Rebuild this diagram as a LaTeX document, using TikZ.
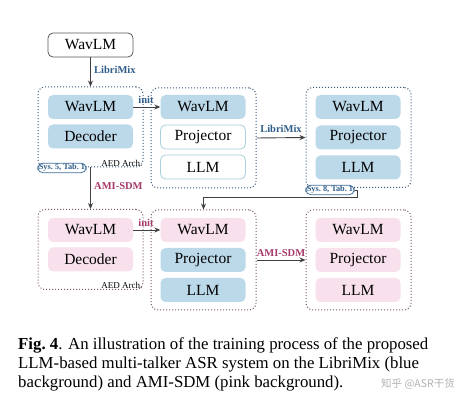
\documentclass[tikz,border=0pt]{standalone}
\usepackage{fontspec}
\setmainfont{Liberation Serif}
\newfontfamily\cjkfont{Noto Sans CJK SC}
\usetikzlibrary{arrows.meta}
\definecolor{libfill}{HTML}{BCD9EA}
\definecolor{amifill}{HTML}{F8E1EC}
\definecolor{tealline}{HTML}{A9D0DC}
\definecolor{libline}{HTML}{3A5878}
\definecolor{amiline}{HTML}{7A5A68}
\definecolor{libtext}{HTML}{2F5D8A}
\definecolor{amitext}{HTML}{A63A6A}
\definecolor{badgeline}{HTML}{3F6F9A}
\begin{document}
\begin{tikzpicture}[x=1pt, y=-1pt,
  blk/.style={rounded corners=5pt, minimum width=85pt, minimum height=24pt, inner sep=0pt, font=\fontsize{15.5}{17}\selectfont},
  blu/.style={blk, fill=libfill},
  pnk/.style={blk, fill=amifill},
  wht/.style={blk, draw=tealline, line width=0.8pt, fill=white},
  grp/.style={draw=#1, dotted, line width=1pt, rounded corners=7pt, minimum width=105pt, inner sep=0pt},
  arr/.style={-{Stealth[length=6pt,width=5pt]}, line width=0.9pt, draw=black!75},
  lbl/.style={font=\fontsize{10.5}{12}\selectfont\bfseries, inner sep=0pt},
  sys/.style={draw=badgeline, fill=white, rounded corners=5pt, line width=0.8pt, inner sep=1pt, text=libtext, font=\fontsize{8.3}{9}\selectfont\bfseries}]
  \useasboundingbox (0,0) rectangle (474,403);

  % groups
  \node[grp=libline, minimum height=80pt] (g1) at (90.5,127) {};
  \node[grp=libline, minimum height=100pt] (g2) at (203.5,138) {};
  \node[grp=libline, minimum height=100pt] (g3) at (358.5,137.5) {};
  \node[grp=amiline, minimum height=80pt] (g4) at (90.5,249.5) {};
  \node[grp=amiline, minimum height=100pt] (g5) at (203.5,260) {};
  \node[grp=amiline, minimum height=100pt] (g6) at (358.5,260) {};

  \node[blk, draw=black!65, line width=0.8pt, fill=white] (w0) at (90.5,45) {WavLM};

  \node[blu] (w1) at (90.5,107) {WavLM};
  \node[blu] (d1) at (90.5,136.5) {Decoder};

  \node[blu] (w2) at (203,107) {WavLM};
  \node[wht] (p2) at (203,137) {Projector};
  \node[wht] (l2) at (203,167) {LLM};

  \node[blu] (w3) at (358,107) {WavLM};
  \node[blu] (p3) at (358,137.5) {Projector};
  \node[blu] (l3) at (358,167.5) {LLM};

  \node[pnk] (w4) at (90.5,230) {WavLM};
  \node[pnk] (d4) at (90.5,259.5) {Decoder};

  \node[pnk] (w5) at (203,230) {WavLM};
  \node[blu] (p5) at (203,260) {Projector};
  \node[blu] (l5) at (203,290) {LLM};

  \node[pnk] (w6) at (358,230) {WavLM};
  \node[pnk] (p6) at (358,260) {Projector};
  \node[pnk] (l6) at (358,290) {LLM};

  \node[font=\fontsize{9}{10}\selectfont, anchor=south east, inner sep=1pt] (aed1) at (g1.south east) {AED Arch.};
  \node[font=\fontsize{9}{10}\selectfont, anchor=south east, inner sep=1pt] (aed4) at (g4.south east) {AED Arch.};

  % arrows
  \draw[arr] (w0) -- (g1.north);
  \node[lbl, text=libtext, anchor=west] (lm1) at (94,70) {LibriMix};

  \draw[arr] (w1.east) -- (w2.west);
  \node[lbl, text=libtext] (in1) at (146,100) {init};

  \draw[arr] (g2.east) -- (g3.west);
  \node[lbl, text=libtext] (lm2) at (281,129) {LibriMix};

  \draw[arr] (g1.south) -- (g4.north);
  \node[lbl, text=amitext, anchor=west] (am1) at (94,186) {AMI-SDM};

  \draw[arr] (w4.east) -- (w5.west);
  \node[lbl, text=amitext] (in4) at (146,223) {init};

  \draw[arr] (g5.east) -- (g6.west);
  \node[lbl, text=amitext] (am2) at (281,253) {AMI-SDM};

  % badges
  \node[sys] (sys5) at (62,168) {Sys.~5, Tab.~1};
  \node[sys] (sys8) at (330,190) {Sys.~8, Tab.~1};
  \coordinate (turn) at (357,197);
  \draw[arr] (sys8.east) -| (turn) -| (g5.north);

  % caption
  \node[anchor=base west, inner sep=0pt, font=\fontsize{16.8}{19}\selectfont] (cap1) at (18,350) {\textbf{Fig.~4}. An illustration of the training process of the proposed};
  \node[anchor=base west, inner sep=0pt, font=\fontsize{16.8}{19}\selectfont] (cap2) at (18,369) {LLM-based multi-talker ASR system on the LibriMix (blue};
  \node[anchor=base west, inner sep=0pt, font=\fontsize{16.8}{19}\selectfont] (cap3) at (18,388) {background) and AMI-SDM (pink background).};
  \node[anchor=base east, inner sep=0pt, text=black!30, font=\cjkfont\fontsize{10.5}{12}\selectfont] (mark) at (455,387) {知乎 @ASR干货};
\end{tikzpicture}
\end{document}
